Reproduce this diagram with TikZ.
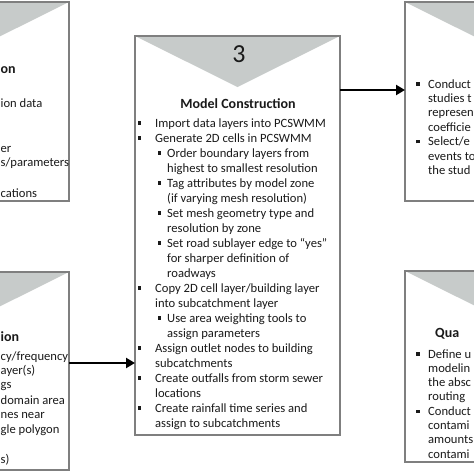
\documentclass[tikz,border=0pt]{standalone}
\usepackage{fontspec}
\setmainfont{Carlito}
\usepackage{enumitem}
\usetikzlibrary{arrows.meta}
\definecolor{boxgray}{HTML}{7F7F7F}
\definecolor{chevgray}{HTML}{C7CBCA}
\definecolor{inkgray}{HTML}{1A1A1A}
\newcommand{\sqbullet}{\rule[2.3pt]{3.3pt}{3.3pt}}
\tikzstyle{stepbox} = [draw=boxgray, line width=1.4pt, fill=white, rectangle,
    inner sep=0pt, outer sep=0pt, minimum width=205pt, anchor=north west,
    path picture={\fill[chevgray] (path picture bounding box.north west)
      -- (path picture bounding box.north east)
      -- ([yshift=-51pt]path picture bounding box.north) -- cycle;}]
\tikzstyle{steptitle} = [font=\bfseries\fontsize{14}{15}\selectfont, text=inkgray, inner sep=0pt]
\tikzstyle{cuttext} = [font=\fontsize{12.6}{15}\selectfont, text=inkgray, inner sep=0pt]
\tikzstyle{flow} = [line width=2.8pt, -{Triangle[length=9pt,width=10pt]}]

\begin{document}
\begin{tikzpicture}[x=1pt, y=-1pt]
                \useasboundingbox (0,0) rectangle (474,474);
                % step boxes
                \node [stepbox, minimum height=199pt] (b1) at (-136,2) {};
                \node [stepbox, minimum height=198pt] (b2) at (-136,272) {};
                \node [stepbox, minimum height=399pt] (c3) at (135,36) {};
                \node [stepbox, minimum height=199pt] (b4) at (405,2) {};
                \node [stepbox, minimum height=191pt] (b5) at (405,271) {};
                % arrows
                \draw [flow] (b2.east |- 0,363) -- (c3.west |- 0,363);
                \draw [flow] (c3.east |- 0,90) -- (b4.west |- 0,90);
                % step 3
                \node [font=\fontsize{26}{30}\selectfont, text=inkgray, anchor=base] (c3num) at (239,62) {3};
                \node [steptitle, anchor=base] (c3title) at (238,108) {Model Construction};
                \node [cuttext, anchor=base west] (c3list) at (137,127) {%
                    \begin{minipage}[t]{203pt}
                        \fontsize{12.6}{15}\selectfont
                        \begin{itemize}[label=\sqbullet, leftmargin=18pt, labelsep=14pt, labelwidth=3.3pt,
                            itemsep=0pt, topsep=0pt, parsep=0pt, partopsep=0pt]
                            \item Import data layers into PCSWMM
                            \item Generate 2D cells in PCSWMM
                            \begin{itemize}[label=\sqbullet, leftmargin=12pt, labelsep=6pt, labelwidth=3.3pt,
                                itemsep=0pt, topsep=0pt, parsep=0pt, partopsep=0pt]
                                \item Order boundary layers from\newline highest to smallest resolution
                                \item Tag attributes by model zone\newline (if varying mesh resolution)
                                \item Set mesh geometry type and\newline resolution by zone
                                \item Set road sublayer edge to ``yes''\newline for sharper definition of\newline roadways
                            \end{itemize}
                            \item Copy 2D cell layer/building layer\newline into subcatchment layer
                            \begin{itemize}[label=\sqbullet, leftmargin=12pt, labelsep=6pt, labelwidth=3.3pt,
                                itemsep=0pt, topsep=0pt, parsep=0pt, partopsep=0pt]
                                \item Use area weighting tools to\newline assign parameters
                            \end{itemize}
                            \item Assign outlet nodes to building\newline subcatchments
                            \item Create outfalls from storm sewer\newline locations
                            \item Create rainfall time series and\newline assign to subcatchments
                        \end{itemize}
                    \end{minipage}};
                % cut-off boxes on the left
                \node [steptitle, anchor=base west] (b1title) at (0.5,73) {on};
                \foreach \yb/\txt in {107/ion data, 152/er, 166/{s/parameters}, 197/cations}
                    \node [cuttext, anchor=base west] (b1l\yb) at (0.5,\yb) {\txt};
                \node [steptitle, anchor=base west] (b2title) at (0.5,341) {ion};
                \foreach \yb/\txt in {360/{cy/frequency}, 374/ayer(s), 388/gs, 404/domain area,
                    418/nes near, 433/gle polygon, 463/s)}
                    \node [cuttext, anchor=base west] (b2l\yb) at (0.5,\yb) {\txt};
                % cut-off boxes on the right
                \node [cuttext, anchor=base west] (b4list) at (416,88) {%
                    \begin{minipage}[t]{100pt}
                        \fontsize{12.6}{14.4}\selectfont
                        \begin{itemize}[label=\sqbullet, leftmargin=12pt, labelsep=8.7pt, labelwidth=3.3pt,
                            itemsep=0pt, topsep=0pt, parsep=0pt, partopsep=0pt]
                            \item Conduct\newline studies t\newline represen\newline coefficie
                            \item Select/e\newline events to\newline the stud
                        \end{itemize}
                    \end{minipage}};
                \node [steptitle, anchor=base west] (b5title) at (435,337) {Qua};
                \node [cuttext, anchor=base west] (b5list) at (416,358) {%
                    \begin{minipage}[t]{100pt}
                        \fontsize{12.6}{14.3}\selectfont
                        \begin{itemize}[label=\sqbullet, leftmargin=12pt, labelsep=8.7pt, labelwidth=3.3pt,
                            itemsep=0pt, topsep=0pt, parsep=0pt, partopsep=0pt]
                            \item Define u\newline modelin\newline the absc\newline routing
                            \item Conduct\newline contami\newline amounts\newline contami
                        \end{itemize}
                    \end{minipage}};
            \end{tikzpicture}
\end{document}
